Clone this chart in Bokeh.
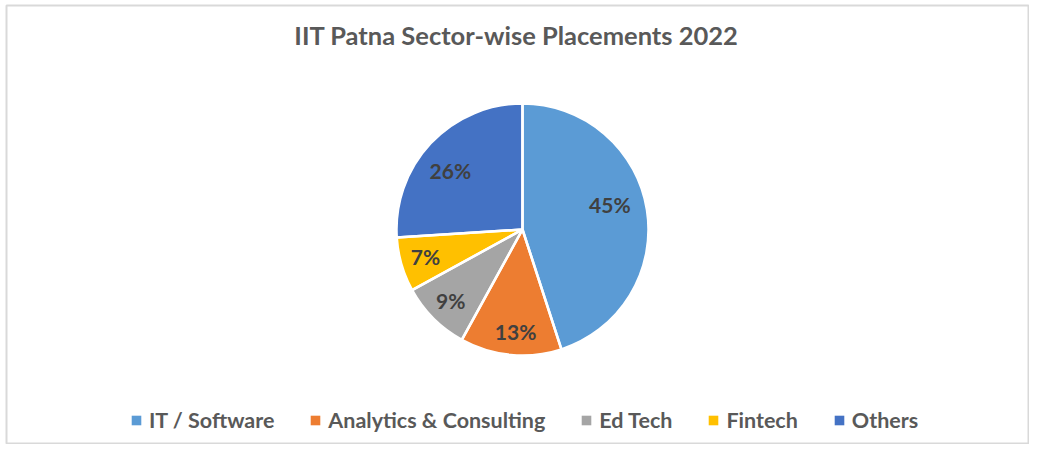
import math
from bokeh.plotting import figure
from bokeh.models import Range1d, Legend, LegendItem, ColumnDataSource
from bokeh.core.properties import value
from bokeh.embed import file_html
from bokeh.resources import INLINE

# ---- data ----
sectors = ["IT / Software", "Analytics & Consulting", "Ed Tech", "Fintech", "Others"]
shares = [45, 13, 9, 7, 26]
colors = ["#5B9BD5", "#ED7D31", "#A5A5A5", "#FFC000", "#4472C4"]
title_text = "IIT Patna Sector-wise Placements 2022"

# ---- layout (styling only) ----
W, H = 1029, 444
LEFT, TOP = 6, 5
CX, CY, R = 522, 215, 126
label_r = [0.72, 0.81, 0.80, 0.80, 0.74]
label_dang = [6.7, 1.5, -0.4, -0.6, 3.9]  # degrees, best-fit style nudges
FONT = "Lato"

total = sum(shares)
starts, ends, lx, ly, labels = [], [], [], [], []
cum = 0.0
for i, s in enumerate(shares):
    f0 = cum / total
    cum += s
    f1 = cum / total
    a_start = math.pi / 2 - f1 * 2 * math.pi   # clockwise from 12 o'clock
    a_end = math.pi / 2 - f0 * 2 * math.pi
    starts.append(a_start)
    ends.append(a_end)
    mid = (a_start + a_end) / 2 + math.radians(label_dang[i])
    rr = label_r[i] * R
    lx.append(CX + rr * math.cos(mid))
    ly.append(CY + rr * math.sin(mid))
    labels.append(f"{round(s / total * 100)}%")

src = ColumnDataSource(dict(sector=sectors, share=shares, color=colors,
                            start=starts, end=ends, x=[CX] * len(shares),
                            y=[CY] * len(shares)))

p = figure(width=W, height=H, x_range=Range1d(LEFT, W), y_range=Range1d(0, H - TOP),
           output_backend="svg", toolbar_location=None,
           min_border_left=LEFT, min_border_top=TOP, min_border_right=0, min_border_bottom=0,
           background_fill_color="white", border_fill_color="white")
p.xaxis.visible = False
p.yaxis.visible = False
p.xgrid.visible = False
p.ygrid.visible = False
p.outline_line_color = "#d9d9d9"
p.outline_line_width = 2

fill_r = p.wedge(x="x", y="y", radius=R, start_angle="start", end_angle="end",
                 fill_color="color", line_color=None, source=src)
p.wedge(x="x", y="y", radius=R, start_angle="start", end_angle="end",
        fill_alpha=0, line_color="white", line_width=2.5, source=src)

p.text(x=lx, y=ly, text=labels, text_align="center", text_baseline="middle",
       text_font=value(FONT), text_font_style="bold", text_font_size="21px",
       text_color="#404040")

p.text(x=[516], y=[H - 34], text=[title_text], text_align="center",
       text_baseline="middle", text_font=value(FONT), text_font_style="bold",
       text_font_size="25.5px", text_color="#595959")

items = [LegendItem(label=s, renderers=[fill_r], index=i) for i, s in enumerate(sectors)]
legend = Legend(items=items, orientation="horizontal", location=(124, 11),
                glyph_width=12, glyph_height=12, label_standoff=7, spacing=35,
                label_text_font=FONT, label_text_font_style="bold",
                label_text_font_size="21.5px", label_text_color="#595959",
                border_line_color=None, background_fill_alpha=0,
                padding=4, margin=0)
p.add_layout(legend, "center")

open("out.html", "w").write(file_html(p, INLINE))
